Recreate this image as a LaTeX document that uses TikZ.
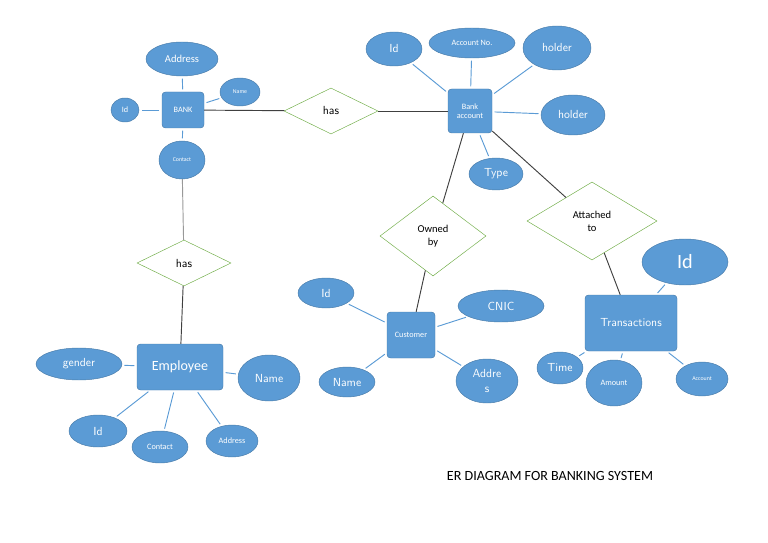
\documentclass[tikz,border=0pt]{standalone}
\usepackage{fontspec}
\setmainfont{Carlito}
\usetikzlibrary{shapes.geometric}
\definecolor{erblue}{HTML}{5B9BD5}
\definecolor{ergreen}{HTML}{70AD47}
\begin{document}
\begin{tikzpicture}[x=0.03cm,y=-0.03cm]
        \tikzstyle{every node}=[font=\sffamily]
        \tikzstyle{ent}=[draw=erblue!80!black,fill=erblue,text=white,rounded corners=3pt,align=center,inner sep=1pt]
        \tikzstyle{att}=[ellipse,draw=erblue!80!black,fill=erblue,text=white,align=center,inner sep=0pt]
        \tikzstyle{rel}=[diamond,draw=ergreen,fill=white,align=center,inner sep=0pt,aspect=2]
        \tikzstyle{lnk}=[erblue,thick,shorten <=2pt,shorten >=2pt]
        \tikzstyle{rl}=[black!75,thick]

        \useasboundingbox (0,0) rectangle (768,543);

        % bank
        \node[ent,minimum width=42*0.03cm,minimum height=36*0.03cm,font=\scriptsize] (bank) at (183,110) {BANK};
        \node[att,minimum width=72*0.03cm,minimum height=34*0.03cm,font=\small] (bankaddr) at (182,59) {Address};
        \node[att,minimum width=40*0.03cm,minimum height=28*0.03cm,font=\tiny] (bankname) at (240,92) {Name};
        \node[att,minimum width=28*0.03cm,minimum height=24*0.03cm,font=\scriptsize] (bankid) at (125,110) {Id};
        \node[att,minimum width=46*0.03cm,minimum height=38*0.03cm,font=\tiny] (bankcont) at (182,160) {Contact};

        % bank account
        \node[rel,minimum width=94*0.03cm,minimum height=46*0.03cm] (has1) at (331,111) {has};
        \node[ent,minimum width=44*0.03cm,minimum height=44*0.03cm,font=\scriptsize] (acc) at (470,111) {Bank\\account};
        \node[att,minimum width=56*0.03cm,minimum height=34*0.03cm] (accid) at (394,49) {Id};
        \node[att,minimum width=86*0.03cm,minimum height=30*0.03cm,font=\scriptsize] (accno) at (472,43) {Account No.};
        \node[att,minimum width=68*0.03cm,minimum height=44*0.03cm] (hold1) at (557,48) {holder};
        \node[att,minimum width=64*0.03cm,minimum height=40*0.03cm] (hold2) at (573,115) {holder};
        \node[att,minimum width=54*0.03cm,minimum height=32*0.03cm] (type) at (496,174) {Type};

        % relations
        \node[rel,minimum width=106*0.03cm,minimum height=80*0.03cm,font=\small] (owned) at (433,236) {Owned\\by};
        \node[rel,minimum width=130*0.03cm,minimum height=78*0.03cm,font=\small] (attach) at (592,221) {Attached\\to};
        \node[rel,minimum width=94*0.03cm,minimum height=46*0.03cm] (has2) at (184,263) {has};

        % employee
        \node[ent,minimum width=86*0.03cm,minimum height=46*0.03cm,font=\large] (emp) at (180,367) {Employee};
        \node[att,minimum width=86*0.03cm,minimum height=32*0.03cm] (gender) at (79,364) {gender};
        \node[att,minimum width=62*0.03cm,minimum height=46*0.03cm] (empname) at (269,378) {Name};
        \node[att,minimum width=58*0.03cm,minimum height=32*0.03cm] (empid) at (98,431) {Id};
        \node[att,minimum width=56*0.03cm,minimum height=32*0.03cm,font=\scriptsize] (empcont) at (160,447) {Contact};
        \node[att,minimum width=52*0.03cm,minimum height=32*0.03cm,font=\scriptsize] (empaddr) at (232,441) {Address};

        % customer
        \node[ent,minimum width=48*0.03cm,minimum height=46*0.03cm,font=\scriptsize] (cust) at (411,335) {Customer};
        \node[att,minimum width=56*0.03cm,minimum height=30*0.03cm] (custid) at (326,293) {Id};
        \node[att,minimum width=86*0.03cm,minimum height=32*0.03cm] (cnic) at (501,306) {CNIC};
        \node[att,minimum width=56*0.03cm,minimum height=30*0.03cm] (custname) at (347,382) {Name};
        \node[att,minimum width=62*0.03cm,minimum height=44*0.03cm] (custaddr) at (487,381) {Addre\\s};

        % transactions
        \node[ent,minimum width=92*0.03cm,minimum height=56*0.03cm] (trans) at (631,323) {Transactions};
        \node[att,minimum width=86*0.03cm,minimum height=46*0.03cm,font=\LARGE] (transid) at (685,262) {Id};
        \node[att,minimum width=46*0.03cm,minimum height=32*0.03cm] (time) at (560,368) {Time};
        \node[att,minimum width=56*0.03cm,minimum height=46*0.03cm,font=\scriptsize] (amount) at (614,383) {Amount};
        \node[att,minimum width=52*0.03cm,minimum height=34*0.03cm,font=\tiny] (transacc) at (702,379) {Account};

        \node[font=\large] (title) at (550,476) {ER DIAGRAM FOR BANKING SYSTEM};

        % relation lines
        \draw[rl] (bank) -- (has1);
        \draw[rl] (has1) -- (acc);
        \draw[rl,black!40] (bankcont) -- (has2);
        \draw[rl] (has2) -- (emp);
        \draw[rl] (acc) -- (owned);
        \draw[rl] (acc) -- (attach);
        \draw[rl] (owned) -- (cust);
        \draw[rl] (attach) -- (trans);

        % attribute lines
        \foreach \a in {bankaddr,bankname,bankid,bankcont}
            \draw[lnk] (bank) -- (\a);
        \foreach \a in {accid,accno,hold1,hold2,type}
            \draw[lnk] (acc) -- (\a);
        \foreach \a in {gender,empname,empid,empcont,empaddr}
            \draw[lnk] (emp) -- (\a);
        \foreach \a in {custid,cnic,custname,custaddr}
            \draw[lnk] (cust) -- (\a);
        \foreach \a in {transid,time,amount,transacc}
            \draw[lnk] (trans) -- (\a);
\end{tikzpicture}
\end{document}
